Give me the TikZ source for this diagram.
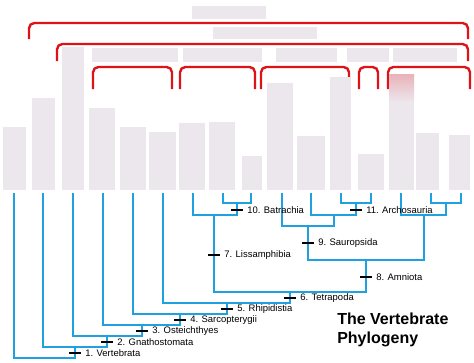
\documentclass[tikz,border=0pt]{standalone}
\usepackage{fontspec}
\setmainfont{Liberation Sans}
\usetikzlibrary{positioning}

\definecolor{cladeblue}{RGB}{30,160,225}
\definecolor{bracketred}{RGB}{222,18,24}
\definecolor{blurgrey}{RGB}{236,231,237}

\begin{document}
\begin{tikzpicture}[
x=0.75pt,
y=-0.75pt,
branch/.style={draw=cladeblue, line width=1.7pt},
brace/.style={draw=bracketred, line width=1.8pt, rounded corners=4pt},
tickbar/.style={draw=black, line width=1.3pt},
taxon/.style={font=\fontsize{7.1}{8}\selectfont, inner sep=0pt},
title/.style={font=\fontsize{12}{14.3}\selectfont\bfseries, align=left, inner sep=0pt, anchor=north west},
blur/.style={fill=blurgrey, draw=none}
]

\useasboundingbox[fill=white] (0,0) rectangle (474,362);

% brackets over the groups
\draw[brace] (29,39) |- (468,23) -- (468,39);
\draw[brace] (57,61) |- (468,44) -- (468,61);
\foreach \a/\b in {93/172, 180/255, 261/349, 359/378, 388/470}
  \draw[brace] (\a,89) |- (\b,67) -- (\b,89);

% blurred pictures and captions
\fill[blur] (192,6) rectangle (266,19);
\fill[blur] (213,27) rectangle (317,39);
\foreach \a/\b in {92/178, 183/262, 276/337, 347/389, 393/457}
  \fill[blur] (\a,48) rectangle (\b,62);
\foreach \a/\b/\t in {3/26/127, 32/55/98, 62/84/47, 89/115/108,
  120/146/127, 149/176/132, 179/205/123, 209/235/122, 242/262/156,
  267/293/83, 297/325/136, 330/351/77, 358/384/154, 389/414/74,
  416/439/133, 449/470/135}
  \fill[blur] (\a,\t) rectangle (\b,190);
\shade[top color=bracketred!25!blurgrey, bottom color=blurgrey] (389,74) rectangle (414,102);

% leaves
\foreach \x [count=\i] in {14,43,73,103,133,163,193,223,251,282,311,341,371,401,431,461}
  \coordinate (l\i) at (\x,193);

% clades
\coordinate (batr) at (237,203);
\coordinate (liss) at (214,215);
\coordinate (arch) at (356,203);
\coordinate (sarch) at (334,215);
\coordinate (saur) at (308,226);
\coordinate (mb) at (446,203);
\coordinate (mam) at (424,215);
\coordinate (amni) at (366,260);
\coordinate (tetr) at (290,292);
\coordinate (rhip) at (227,303);
\coordinate (sarc) at (180,314);
\coordinate (oste) at (142,325);
\coordinate (gnat) at (107,336);
\coordinate (vert) at (75,347);
\coordinate (root) at (75,358);

\draw[branch] (l8) |- (batr) -| (l9);
\draw[branch] (l7) |- (liss) -| (batr);
\draw[branch] (l12) |- (arch) -| (l13);
\draw[branch] (l11) |- (sarch) -| (arch);
\draw[branch] (l10) |- (saur) -| (sarch);
\draw[branch] (l15) |- (mb) -| (l16);
\draw[branch] (l14) |- (mam) -| (mb);
\draw[branch] (saur) |- (amni) -| (mam);
\draw[branch] (liss) |- (tetr) -| (amni);
\draw[branch] (l6) |- (rhip) -| (tetr);
\draw[branch] (l5) |- (sarc) -| (rhip);
\draw[branch] (l4) |- (oste) -| (sarc);
\draw[branch] (l3) |- (gnat) -| (oste);
\draw[branch] (l2) |- (vert) -| (gnat);
\draw[branch] (l1) |- (root) -- (vert);

% ticks and names
\foreach \nm/\px/\py/\txt in {c1/75/353/1. Vertebrata, c2/107/342/2. Gnathostomata,
  c3/142/331/3. Osteichthyes, c4/180/320/4. Sarcopterygii, c5/227/309/5. Rhipidistia,
  c6/290/298/6. Tetrapoda, c7/214/255/7. Lissamphibia, c8/366/277/8. Amniota,
  c9/308/243/9. Sauropsida, c10/237/210/10. Batrachia, c11/356/210/11. Archosauria}
{
  \coordinate (\nm) at (\px,\py);
  \draw[tickbar] ([xshift=-4.5pt]\nm) -- ([xshift=4.5pt]\nm);
  \node[taxon, right=7.5pt of \nm] (\nm lbl) {\txt};
}

\node[title] (heading) at (337,313) {The Vertebrate\\Phylogeny};

\end{tikzpicture}
\end{document}
